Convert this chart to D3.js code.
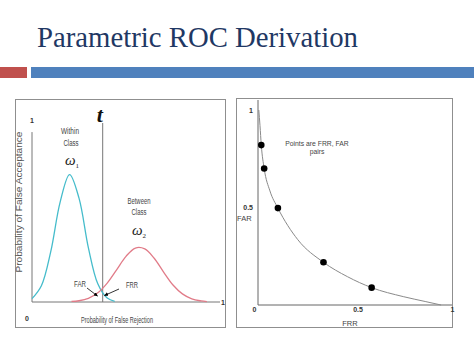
<!DOCTYPE html>
<html><head><meta charset="utf-8">
<script src="https://cdn.jsdelivr.net/npm/d3@7"></script>
<style>html,body{margin:0;padding:0;background:#fff;}svg{display:block;}</style>
</head><body>
<script>
// ---- data ----
const titleText = "Parametric ROC Derivation";
// left panel: class-conditional densities
const withinX = [0.00,0.05,0.10,0.15,0.20,0.25,0.30,0.35,0.40,0.44];
const withinY = [0.019,0.092,0.286,0.566,0.72,0.587,0.306,0.103,0.022,0.004];
const betweenX = [0.21,0.25,0.30,0.35,0.40,0.45,0.50,0.55,0.60,0.65,0.70,0.75,0.80,0.85,0.90,0.93];
const betweenY = [0.003,0.007,0.021,0.052,0.107,0.182,0.258,0.305,0.300,0.247,0.169,0.096,0.046,0.018,0.006,0.002];
const threshold = 0.376;
const leftTicks = [0, 1];
// right panel: ROC curve and FRR/FAR pairs
const rocX = [0.004,0.010,0.0165,0.031,0.06,0.10,0.20,0.329,0.45,0.571,0.73,0.84,0.92];
const rocY = [1.00,0.92,0.82,0.70,0.585,0.497,0.335,0.219,0.145,0.089,0.043,0.018,0.000];
const pairFRR = [0.0165,0.031,0.10,0.329,0.571];
const pairFAR = [0.82,0.70,0.497,0.219,0.089];
const rocXTicks = [0, 0.5, 1];
const rocYTicks = [0.5, 1];

const W = 474, H = 355;
const svg = d3.select("body").append("svg").attr("width", W).attr("height", H);
const sans = "Liberation Sans, Arial, sans-serif";
const serif = "Liberation Serif, Times New Roman, serif";

// title
const title = svg.append("text").attr("x", 37).attr("y", 47)
  .attr("font-family", serif).attr("font-size", 28).attr("fill", "#1f3864").text(titleText);
const tl = title.node().getComputedTextLength();
title.attr("font-size", 28 * 321 / tl);
// bars
svg.append("rect").attr("x", 0).attr("y", 67).attr("width", 27).attr("height", 11).attr("fill", "#c0504d");
svg.append("rect").attr("x", 31).attr("y", 67).attr("width", W - 31).attr("height", 11).attr("fill", "#4f81bd");

// panel boxes
svg.append("rect").attr("x", 15.5).attr("y", 99.5).attr("width", 210).attr("height", 228)
  .attr("fill", "none").attr("stroke", "#8f8f8f");
svg.append("rect").attr("x", 236.5).attr("y", 98.5).attr("width", 216).attr("height", 229)
  .attr("fill", "none").attr("stroke", "#8f8f8f");

const defs = svg.append("defs");
defs.append("marker").attr("id", "ah").attr("viewBox", "0 0 10 10").attr("refX", 9).attr("refY", 5)
  .attr("markerWidth", 5).attr("markerHeight", 5).attr("orient", "auto")
  .append("path").attr("d", "M0,0L10,5L0,10z").attr("fill", "#000");

// ---------- left panel ----------
const xL = d3.scaleLinear().domain([0, 1]).range([32, 220]);
const yL = d3.scaleLinear().domain([0, 1]).range([302, 125]);
const gL = svg.append("g");
gL.append("line").attr("x1", xL(0)).attr("x2", xL(0)).attr("y1", yL(0)).attr("y2", yL(0.96)).attr("stroke", "#777").attr("stroke-width", 1);
gL.append("line").attr("x1", xL(0)).attr("x2", xL(1)).attr("y1", yL(0)).attr("y2", yL(0)).attr("stroke", "#777").attr("stroke-width", 1);
gL.append("text").attr("x", xL(0) - 5).attr("y", yL(0) + 19).attr("font-family", sans).attr("font-size", 7)
  .attr("font-weight", "bold").attr("fill", "#333").attr("text-anchor", "middle").text(leftTicks[0]);
gL.append("text").attr("x", xL(0)).attr("y", yL(1) - 2).attr("font-family", sans).attr("font-size", 7)
  .attr("font-weight", "bold").attr("fill", "#333").attr("text-anchor", "middle").text(leftTicks[1]);
gL.append("text").attr("x", xL(1) + 3).attr("y", yL(0) + 3).attr("font-family", sans).attr("font-size", 7)
  .attr("font-weight", "bold").attr("fill", "#333").attr("text-anchor", "middle").text(leftTicks[1]);
// threshold line
gL.append("line").attr("x1", xL(threshold)).attr("x2", xL(threshold)).attr("y1", 123).attr("y2", yL(0))
  .attr("stroke", "#777").attr("stroke-width", 1);
gL.append("text").attr("x", xL(threshold) - 3).attr("y", 122).attr("font-family", serif).attr("font-size", 22)
  .attr("font-style", "italic").attr("font-weight", "bold").attr("fill", "#111").attr("text-anchor", "middle").text("t");
// curves
const lineL = d3.line().x(d => xL(d[0])).y(d => yL(d[1])).curve(d3.curveCatmullRom);
gL.append("path").datum(withinX.map((x, i) => [x, withinY[i]])).attr("d", lineL)
  .attr("fill", "none").attr("stroke", "#45bccb").attr("stroke-width", 1.3);
gL.append("path").datum(betweenX.map((x, i) => [x, betweenY[i]])).attr("d", lineL)
  .attr("fill", "none").attr("stroke", "#e17b88").attr("stroke-width", 1.3);
// axis titles
gL.append("text").attr("transform", "translate(22,202) rotate(-90)").attr("font-family", sans).attr("font-size", 9)
  .attr("fill", "#555").attr("text-anchor", "middle").attr("textLength", 141).attr("lengthAdjust", "spacingAndGlyphs")
  .text("Probability of False Acceptance");
gL.append("text").attr("x", 117).attr("y", 323).attr("font-family", sans).attr("font-size", 8.5)
  .attr("fill", "#444").attr("text-anchor", "middle").attr("textLength", 72).attr("lengthAdjust", "spacingAndGlyphs")
  .text("Probability of False Rejection");
function small(x, y, t, len) {
  const e = gL.append("text").attr("x", x).attr("y", y).attr("font-family", sans).attr("font-size", 8.5)
    .attr("fill", "#444").attr("text-anchor", "middle").text(t);
  if (len) e.attr("textLength", len).attr("lengthAdjust", "spacingAndGlyphs");
}
small(70, 134, "Within", 18);
small(71, 146, "Class", 15);
small(139, 204, "Between", 23);
small(139, 215, "Class", 15);
function omega(x, y, sub) {
  const t = gL.append("text").attr("x", x).attr("y", y).attr("font-family", serif).attr("font-size", 15)
    .attr("font-style", "italic").attr("fill", "#222").attr("text-anchor", "middle");
  t.append("tspan").text("ω");
  t.append("tspan").attr("font-size", 7).attr("font-style", "normal").attr("dy", 3).text(sub);
}
omega(72, 165, "1");
omega(139, 235, "2");
small(80, 287, "FAR", 12);
small(132, 288, "FRR", 12);
gL.append("line").attr("x1", 87).attr("y1", 288).attr("x2", 97.5).attr("y2", 296)
  .attr("stroke", "#000").attr("stroke-width", 0.8).attr("marker-end", "url(#ah)");
gL.append("line").attr("x1", 119).attr("y1", 289).attr("x2", 104.5).attr("y2", 295.5)
  .attr("stroke", "#000").attr("stroke-width", 0.8).attr("marker-end", "url(#ah)");

// ---------- right panel ----------
const xR = d3.scaleLinear().domain([0, 1]).range([258, 457]);
const yR = d3.scaleLinear().domain([0, 1]).range([305, 110]);
const gR = svg.append("g");
gR.append("line").attr("x1", xR(0)).attr("x2", xR(0)).attr("y1", yR(0)).attr("y2", 100).attr("stroke", "#666");
gR.append("line").attr("x1", xR(0)).attr("x2", 452).attr("y1", yR(0)).attr("y2", yR(0)).attr("stroke", "#666");
const ax = gR.append("g").attr("transform", `translate(0,${yR(0)})`)
  .call(d3.axisBottom(xR).tickValues(rocXTicks).tickSize(0).tickPadding(2).tickFormat(d3.format("")));
ax.select(".domain").remove();
ax.selectAll("text").attr("font-family", sans).attr("font-size", 7).attr("font-weight", "bold").attr("fill", "#333")
  .attr("dx", (d) => d === 0 ? -4 : (d === 1 ? -5 : 0));
const ay = gR.append("g").attr("transform", `translate(${xR(0)},0)`)
  .call(d3.axisLeft(yR).tickValues(rocYTicks).tickSize(0).tickPadding(5).tickFormat(d3.format("")));
ay.select(".domain").remove();
ay.selectAll("text").attr("font-family", sans).attr("font-size", 7).attr("font-weight", "bold").attr("fill", "#333");
gR.append("text").attr("x", 237).attr("y", 221).attr("font-family", sans).attr("font-size", 7.5).attr("fill", "#444").text("FAR");
gR.append("text").attr("x", 350).attr("y", 326).attr("font-family", sans).attr("font-size", 7.5).attr("fill", "#444")
  .attr("text-anchor", "middle").text("FRR");
gR.append("text").attr("x", 317).attr("y", 146).attr("font-family", sans).attr("font-size", 6.8).attr("fill", "#444")
  .attr("text-anchor", "middle").text("Points are FRR, FAR");
gR.append("text").attr("x", 317).attr("y", 154).attr("font-family", sans).attr("font-size", 6.8).attr("fill", "#444")
  .attr("text-anchor", "middle").text("pairs");
const lineR = d3.line().x(d => xR(d[0])).y(d => yR(d[1])).curve(d3.curveMonotoneX);
gR.append("path").datum(rocX.map((x, i) => [x, rocY[i]])).attr("d", lineR)
  .attr("fill", "none").attr("stroke", "#8a8a8a").attr("stroke-width", 1);
gR.selectAll("circle.p").data(pairFRR.map((x, i) => [x, pairFAR[i]])).join("circle").attr("class", "p")
  .attr("cx", d => xR(d[0])).attr("cy", d => yR(d[1])).attr("r", 3.3).attr("fill", "#000");
</script>
</body></html>
